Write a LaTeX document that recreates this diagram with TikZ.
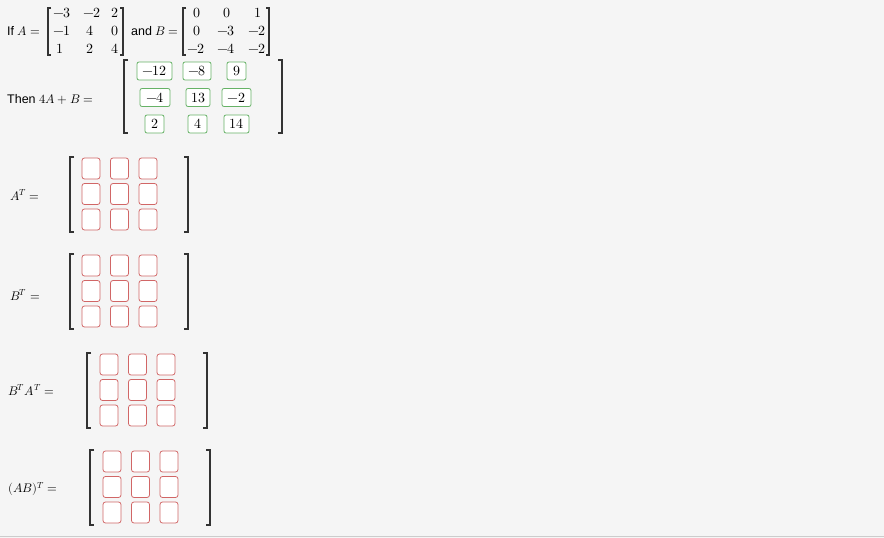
\documentclass[tikz,border=0pt]{standalone}
\usepackage{fontspec}
\setmainfont{Liberation Sans}
\usepackage{unicode-math}
\setmathfont{Latin Modern Math}
\begin{document}
\begin{tikzpicture}[x=1pt,y=-1pt,
  lbl/.style={anchor=west,font=\fontsize{12.5}{14}\selectfont,inner sep=0},
  ent/.style={font=\fontsize{14}{16}\selectfont,inner sep=0},
  gbox/.style={draw=green!50!black!60,fill=white,rounded corners=2pt,line width=0.8pt,inner sep=0,font=\fontsize{14}{16}\selectfont},
  rbox/.style={draw=red!70!black!60,fill=white,rounded corners=2.5pt,line width=0.8pt,minimum width=18pt,minimum height=21pt,inner sep=0},
  brk/.style={line width=1.1pt,draw=black!80}]
\fill[black!4] (0,0) rectangle (884,538);
\useasboundingbox (0,0) rectangle (884,538);
\draw[black!20] (0,536) -- (884,536);
% A
\node[lbl] (ifA) at (7,31) {If $A=$};
\draw[brk] (51,8) -- (48,8) -- (48,55) -- (51,55);
\draw[brk] (120,8) -- (123,8) -- (123,55) -- (120,55);
\node[ent] (a11) at (62,13) {$-3$}; \node[ent] (a12) at (92,13) {$-2$}; \node[ent] (a13) at (115,13) {$2$};
\node[ent] (a21) at (62,31) {$-1$}; \node[ent] (a22) at (90,31) {$4$}; \node[ent] (a23) at (115,31) {$0$};
\node[ent] (a31) at (60,49) {$1$}; \node[ent] (a32) at (90,49) {$2$}; \node[ent] (a33) at (115,49) {$4$};
\node[lbl] (andB) at (131,31) {and $B=$};
\draw[brk] (186,8) -- (183,8) -- (183,55) -- (186,55);
\draw[brk] (266,8) -- (269,8) -- (269,55) -- (266,55);
\node[ent] (b11) at (197,13) {$0$}; \node[ent] (b12) at (227,13) {$0$}; \node[ent] (b13) at (258,13) {$1$};
\node[ent] (b21) at (197,31) {$0$}; \node[ent] (b22) at (226,31) {$-3$}; \node[ent] (b23) at (257,31) {$-2$};
\node[ent] (b31) at (196,49) {$-2$}; \node[ent] (b32) at (226,49) {$-4$}; \node[ent] (b33) at (257,49) {$-2$};
% 4A+B
\node[lbl] (then) at (7,99) {Then $4A+B=$};
\draw[brk] (128,60) -- (124,60) -- (124,133) -- (128,133);
\draw[brk] (278,60) -- (282,60) -- (282,133) -- (278,133);
\node[gbox,minimum width=35pt,minimum height=18pt] (c11) at (154.5,71) {$-12$};
\node[gbox,minimum width=28pt,minimum height=18pt] (c12) at (197,71) {$-8$};
\node[gbox,minimum width=19pt,minimum height=18pt] (c13) at (236.5,71) {$9$};
\node[gbox,minimum width=30pt,minimum height=18pt] (c21) at (155,97.5) {$-4$};
\node[gbox,minimum width=24pt,minimum height=18pt] (c22) at (198,97.5) {$13$};
\node[gbox,minimum width=29pt,minimum height=18pt] (c23) at (236.5,97.5) {$-2$};
\node[gbox,minimum width=19pt,minimum height=18pt] (c31) at (154.5,124) {$2$};
\node[gbox,minimum width=19pt,minimum height=18pt] (c32) at (197.5,124) {$4$};
\node[gbox,minimum width=25pt,minimum height=18pt] (c33) at (236.5,124) {$14$};
% empty matrices
\foreach \nm/\lab/\lx/\ly/\bl/\br/\bt/\bx in {
  at/{$A^T=$}/10/195/70/188/157/82,
  bt/{$B^T=$}/10/295/70/188/254/82,
  btat/{$B^TA^T=$}/8/390/87/207/353/100,
  abt/{$(AB)^T=$}/8/489/90/210/450/103}{
  \node[lbl] (\nm-lab) at (\lx,\ly) {\lab};
  \draw[brk] (\bl+4,\bt) -- (\bl,\bt) -- (\bl,\bt+75) -- (\bl+4,\bt+75);
  \draw[brk] (\br-4,\bt) -- (\br,\bt) -- (\br,\bt+75) -- (\br-4,\bt+75);
  \foreach \i in {0,1,2}{\foreach \j in {0,1,2}{
    \node[rbox] (\nm-\i\j) at (\bx+9+\j*28.5,\bt+11.5+\i*25.5) {};
  }}
}
\end{tikzpicture}
\end{document}
